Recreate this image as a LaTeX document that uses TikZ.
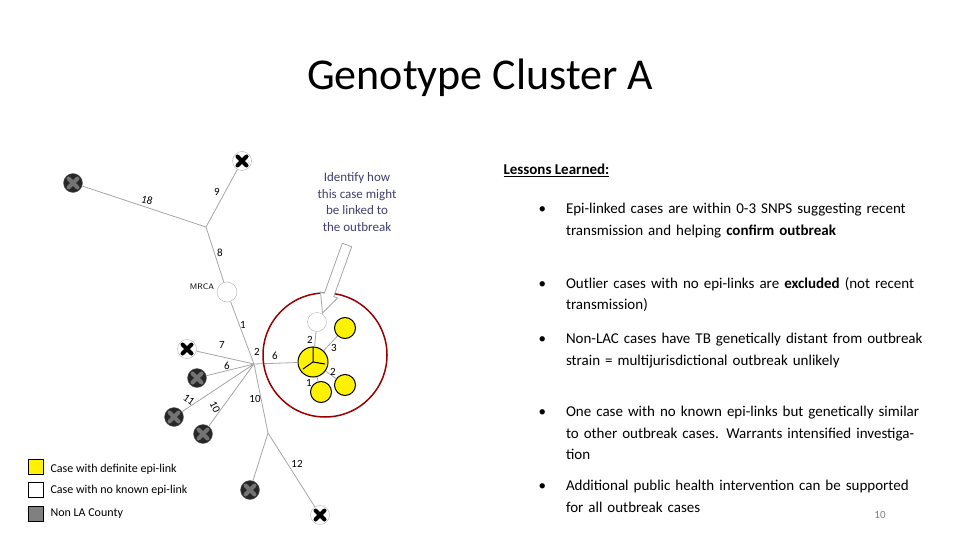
\documentclass[tikz,border=0pt]{standalone}
\usepackage{fontspec}
\setmainfont{Carlito}
\begin{document}
\begin{tikzpicture}[x=1pt,y=-1pt,
 edge/.style={draw=gray!70,line width=0.8pt},
 xmark/.style={path picture={\draw[#1,line width=4pt,line cap=round] ([xshift=-4.5pt,yshift=-4.5pt]path picture bounding box.center) -- ([xshift=4.5pt,yshift=4.5pt]path picture bounding box.center) ([xshift=-4.5pt,yshift=4.5pt]path picture bounding box.center) -- ([xshift=4.5pt,yshift=-4.5pt]path picture bounding box.center);}},
 dark/.style={circle,fill=black!85,draw=black!60,minimum size=19pt,inner sep=0pt,xmark=black!55},
 wx/.style={circle,fill=white,draw=gray!60,minimum size=19pt,inner sep=0pt,xmark=black},
 ylw/.style={circle,fill=yellow,draw=black,line width=1pt,minimum size=21pt,inner sep=0pt},
 lbl/.style={font=\fontsize{11}{12}\selectfont,inner sep=0pt},
 leg/.style={font=\fontsize{12}{13}\selectfont,anchor=west},
 bul/.style={font=\fontsize{15}{21.5}\selectfont,anchor=north west,text width=390pt,align=left}]
\useasboundingbox (0,0) rectangle (960,540);
\node (title) at (480,78) {\fontsize{44}{48}\selectfont Genotype Cluster A};
\coordinate (j1) at (206,227);
\coordinate (j2) at (254,364);
\coordinate (j3) at (268,433);
\node[circle,fill=white,draw=gray!60,minimum size=20pt] (mrca) at (227,292) {};
\node[dark] (n18) at (73,183) {};
\node[wx] (n9) at (242,161) {};
\node[wx] (n7) at (187,349) {};
\node[dark] (n6) at (197,378) {};
\node[dark] (n11) at (174,417) {};
\node[dark] (n10) at (203,434) {};
\node[dark] (nb) at (250,490) {};
\node[wx] (nx) at (320,515) {};
\node[ylw,minimum size=30pt] (c) at (313,362) {};
\draw[line width=1pt] (c.center) -- (c.north) (c.center) -- ++(12,2) (c.center) -- ++(-10,7);
\node[circle,draw=gray!60,fill=white,minimum size=19pt] (w) at (317,322) {};
\node[ylw] (y1) at (345,328) {};
\node[ylw] (y2) at (345,385) {};
\node[ylw] (y3) at (321,392) {};
\draw[edge] (n18) -- (j1) -- (n9);
\draw[edge] (j1) -- (mrca) -- (j2) -- (j3) -- (nb);
\draw[edge] (j3) -- (nx);
\draw[edge] (n7) -- (j2) (n6) -- (j2) (n11) -- (j2) (n10) -- (j2) (j2) -- (c);
\draw[edge] (c) -- (w) (c) -- (y1) (c) -- (y2) (c) -- (y3);
\node[circle,draw=red!60!black,line width=1.5pt,minimum size=124pt] (ring) at (325,355) {};
\node[lbl,rotate=-15] (l18) at (147,200) {18};
\node[lbl] (l9) at (217,192) {9};
\node[lbl] (l8) at (220,253) {8};
\node[lbl,font=\fontsize{8}{9}\selectfont\sffamily] (lm) at (202,287) {MRCA};
\node[lbl] (l1) at (243,325) {1};
\node[lbl] (l7) at (222,345) {7};
\node[lbl] (l2) at (257,352) {2};
\node[lbl] (l6) at (227,366) {6};
\node[lbl] (l6b) at (275,356) {6};
\node[lbl,rotate=-35] (l11) at (189,400) {11};
\node[lbl,rotate=-65] (l10) at (215,407) {10};
\node[lbl] (l10b) at (255,399) {10};
\node[lbl] (l12) at (297,464) {12};
\node[lbl] (c2) at (310,340) {2};
\node[lbl] (c3) at (334,348) {3};
\node[lbl] (c2b) at (333,372) {2};
\node[lbl] (c1) at (309,383) {1};
\node[font=\fontsize{13}{16.5}\selectfont,color=blue!25!black!75,align=center] (call) at (357,202) {Identify how\\this case might\\be linked to\\the outbreak};
\draw[draw=gray!70,fill=white,line width=0.8pt] (351.7,246.7) -- (333.7,296.7) -- (337.5,298) -- (322.5,313) -- (320.5,292) -- (324.3,293.3) -- (342.3,243.3) -- cycle;
\node[draw=black,fill=yellow,minimum size=15pt,inner sep=0pt] (b1) at (36,467) {};
\node[draw=black,fill=white,minimum size=15pt,inner sep=0pt] (b2) at (36,490) {};
\node[draw=black,fill=gray,minimum size=15pt,inner sep=0pt] (b3) at (36,514) {};
\node[leg] (t1) at (47,469) {Case with definite epi-link};
\node[leg] (t2) at (47,490) {Case with no known epi-link};
\node[leg] (t3) at (47,514) {Non LA County};
\node[font=\fontsize{15}{18}\selectfont\bfseries,anchor=west] (lh) at (500,170) {\underline{Lessons Learned:}};
\node[bul] (p1) at (535,200) {\textbullet\hspace{20pt}\parbox[t]{360pt}{Epi-linked cases are within 0-3 SNPS suggesting recent transmission and helping \textbf{confirm outbreak}}};
\node[bul] (p2) at (535,274) {\textbullet\hspace{20pt}\parbox[t]{360pt}{Outlier cases with no epi-links are \textbf{excluded} (not recent transmission)}};
\node[bul] (p3) at (535,330) {\textbullet\hspace{20pt}\parbox[t]{360pt}{Non-LAC cases have TB genetically distant from outbreak strain = multijurisdictional outbreak unlikely}};
\node[bul] (p4) at (535,403) {\textbullet\hspace{20pt}\parbox[t]{360pt}{One case with no known epi-links but genetically similar to other outbreak cases. Warrants intensified investigation}};
\node[bul] (p5) at (535,477) {\textbullet\hspace{20pt}\parbox[t]{360pt}{Additional public health intervention can be supported for all outbreak cases}};
\node[font=\fontsize{11}{12}\selectfont,color=gray] (pg) at (880,515) {10};
\end{tikzpicture}
\end{document}
